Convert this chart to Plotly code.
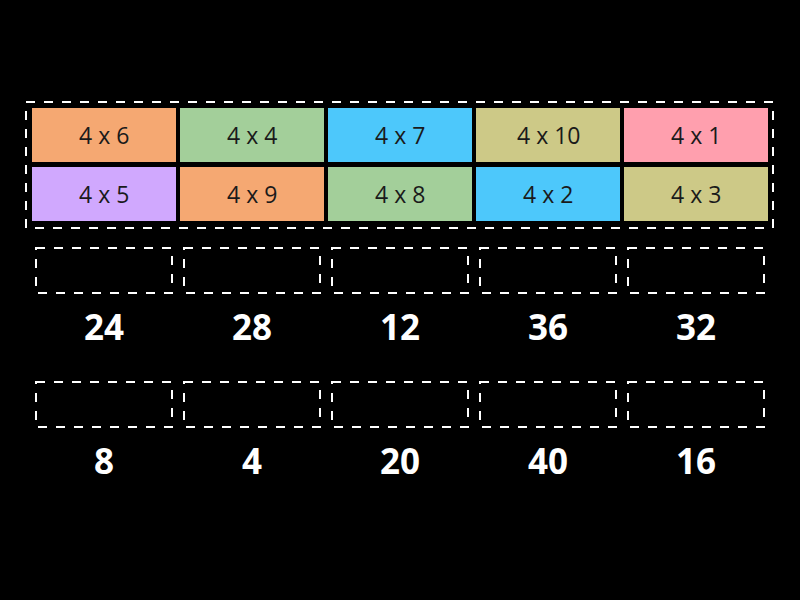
import plotly.graph_objects as go

# Tiles (top two rows), in reading order
tile_labels = ['4 x 6', '4 x 4', '4 x 7', '4 x 10', '4 x 1',
               '4 x 5', '4 x 9', '4 x 8', '4 x 2', '4 x 3']
tile_colors = ['#f5a872', '#a3cf9a', '#4dc8fb', '#cdc987', '#ff9fae',
               '#d0a8fe', '#f5a872', '#a3cf9a', '#4dc8fb', '#cdc987']
# Answer slots
answers_row1 = ['24', '28', '12', '36', '32']
answers_row2 = ['8', '4', '20', '40', '16']

fig = go.Figure()
fig.add_trace(go.Scatter(x=[0, 800], y=[0, 600], mode='markers',
                         marker=dict(opacity=0), hoverinfo='skip'))

shapes = []
annotations = []

# dashed outer frame around tiles
shapes.append(dict(type='rect', x0=26, x1=773, y0=102, y1=228,
                   line=dict(color='white', width=2, dash='dash')))

for i, (lab, col) in enumerate(zip(tile_labels, tile_colors)):
    r, c = divmod(i, 5)
    x0 = 32 + c * 148
    y0 = 108 + r * 59
    shapes.append(dict(type='rect', x0=x0, x1=x0 + 144, y0=y0, y1=y0 + 54,
                       fillcolor=col, line=dict(width=0)))
    annotations.append(dict(x=x0 + 72, y=y0 + 27, text=lab, showarrow=False,
                            font=dict(family='Open Sans', size=23, color='#1a1a1a')))

for r, row in enumerate([answers_row1, answers_row2]):
    y0 = 248 + r * 134
    for c, ans in enumerate(row):
        x0 = 36 + c * 148
        shapes.append(dict(type='rect', x0=x0, x1=x0 + 136, y0=y0, y1=y0 + 45,
                           line=dict(color='white', width=2, dash='dash')))
        annotations.append(dict(x=x0 + 68, y=y0 + 78, text='<b>%s</b>' % ans,
                                showarrow=False,
                                font=dict(family='Open Sans', size=35, color='white')))

fig.update_layout(
    width=800, height=600, margin=dict(l=0, r=0, t=0, b=0),
    paper_bgcolor='black', plot_bgcolor='black', showlegend=False,
    xaxis=dict(range=[0, 800], visible=False, fixedrange=True),
    yaxis=dict(range=[600, 0], visible=False, fixedrange=True),
    shapes=shapes, annotations=annotations,
)

fig.write_html("out.html", config=dict(displayModeBar=False),
               post_script="document.body.style.margin='0';document.body.style.background='black';")
